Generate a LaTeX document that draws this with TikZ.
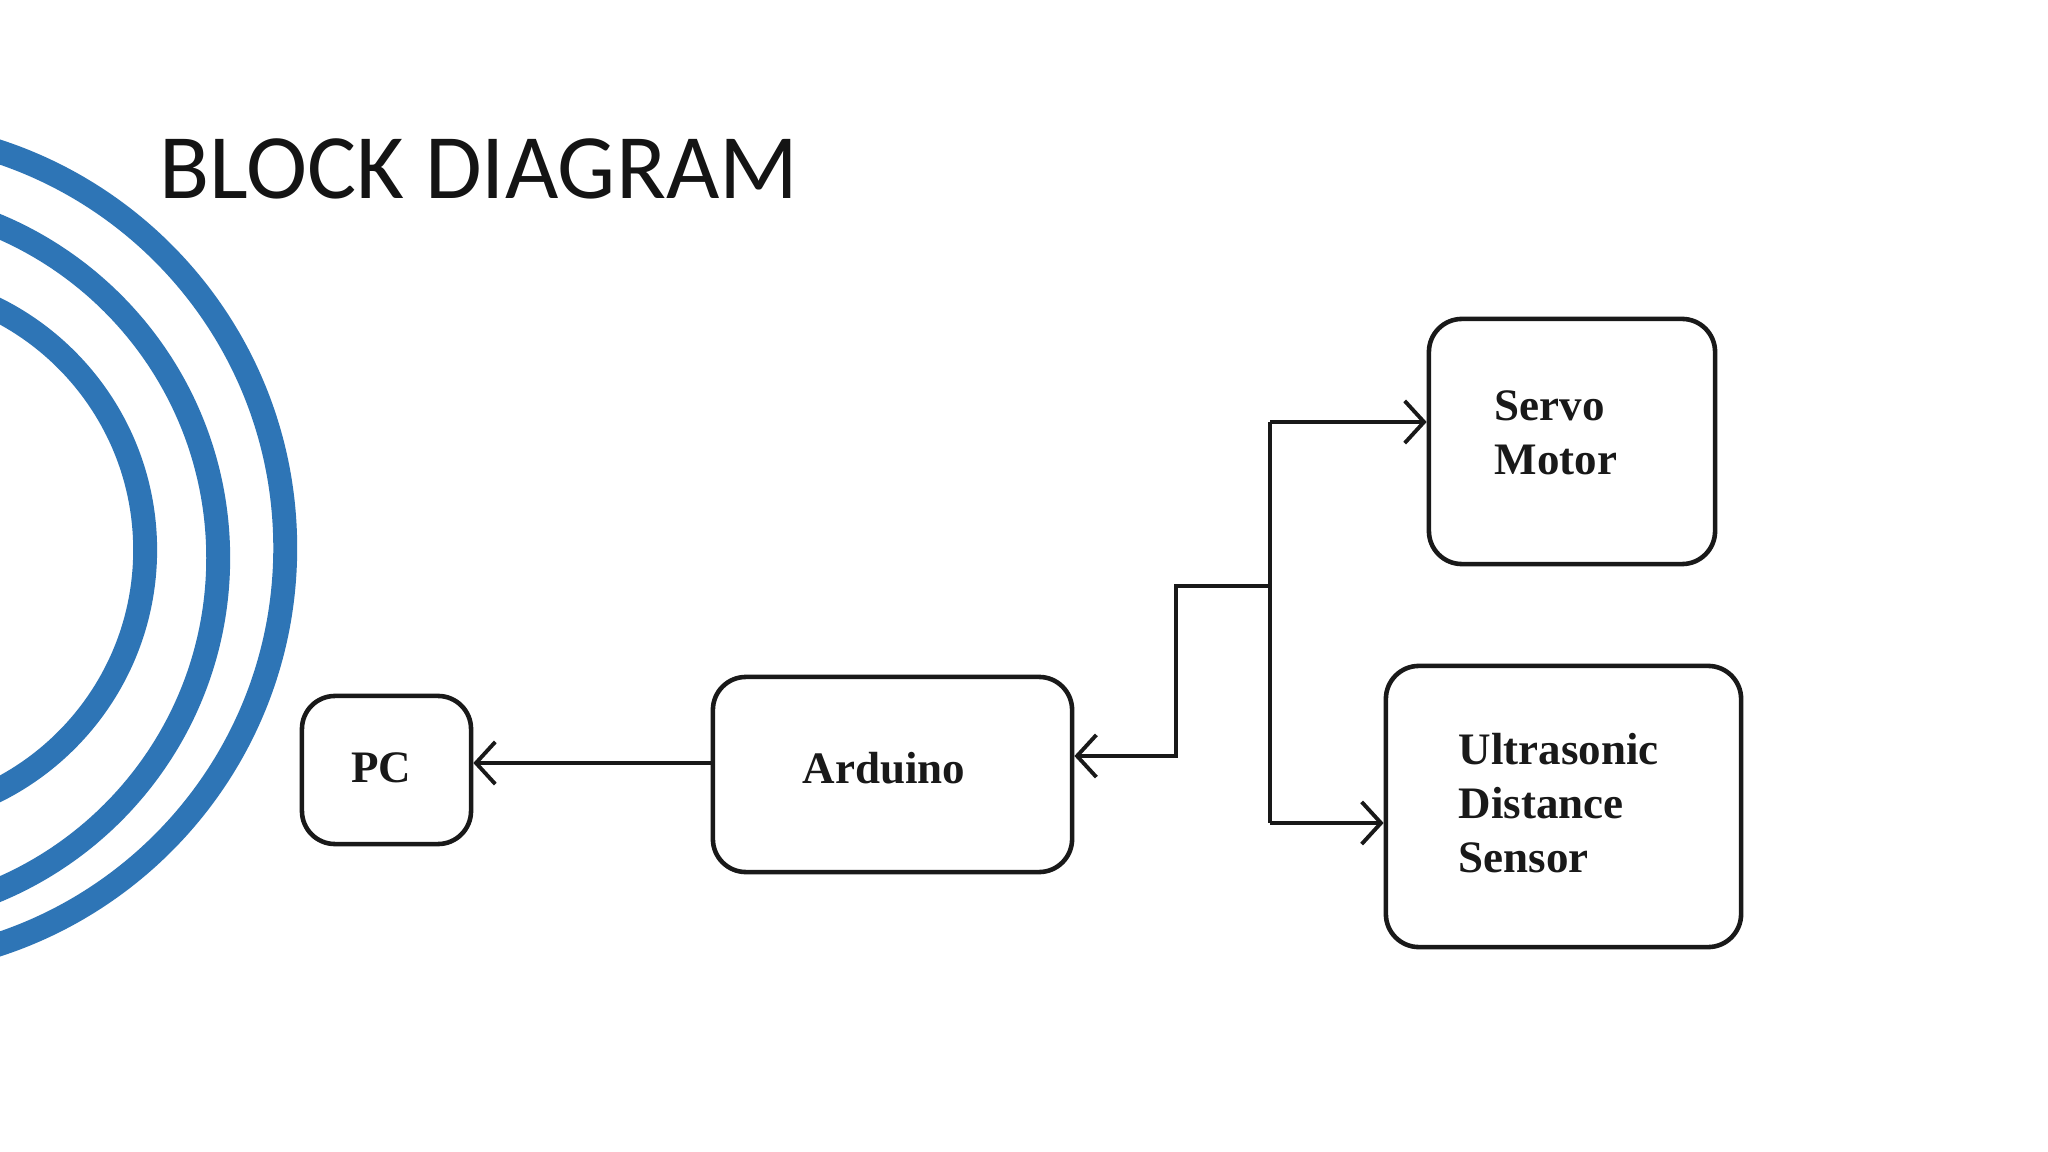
\documentclass[tikz,border=0pt]{standalone}
\usepackage{fontspec}
\setmainfont{Liberation Serif}
\newfontfamily\titlefont{Carlito}
\usetikzlibrary{arrows.meta}
\definecolor{arcblue}{RGB}{46,117,182}
\definecolor{ink}{RGB}{25,25,25}
\tikzset{
  blk/.style={draw=ink, line width=1.3pt, rounded corners=0.33cm, fill=white, inner sep=0pt},
  conn/.style={draw=ink, line width=1.1pt},
  tip/.style={-{Straight Barb[length=5.5pt,width=12pt,line width=1.1pt]}},
  lbl/.style={font=\bfseries\fontsize{12.8pt}{15.4pt}\selectfont, text=ink, align=left, inner sep=0pt},
  arcline/.style={draw=arcblue, line width=6.8pt}
}
\begin{document}
\begin{tikzpicture}[x=0.01cm, y=-0.01cm]
\path[fill=white, use as bounding box] (0,0) rectangle (2048,1152);
\begin{scope}
  \clip (0,0) rectangle (2048,1152);
  \draw[arcline] (-132,548) circle [radius=4.17cm];
  \draw[arcline] (-142,558) circle [radius=3.60cm];
  \draw[arcline] (-124,550) circle [radius=2.69cm];
\end{scope}
\node[anchor=base west, inner sep=0pt, text=black!92, font=\titlefont\fontsize{26.2pt}{30pt}\selectfont] (title) at (159,199) {BLOCK DIAGRAM};

\node[blk, minimum width=1.69cm, minimum height=1.48cm] (pc) at (386.5,770) {};
\node[blk, minimum width=3.59cm, minimum height=1.95cm] (ard) at (892.5,774.5) {};
\node[blk, minimum width=2.86cm, minimum height=2.45cm] (servo) at (1572,441.5) {};
\node[blk, minimum width=3.55cm, minimum height=2.81cm] (ultra) at (1563.5,806.5) {};

\node[lbl] (pct) at (381,768) {PC};
\node[lbl] (ardt) at (884,768) {Arduino};
\node[lbl, anchor=west] (servot) at (1494,433) {Servo\\Motor};
\node[lbl, anchor=west] (ultrat) at (1458,803) {Ultrasonic\\Distance\\Sensor};

\coordinate (pcin) at (471,763);
\coordinate (j1) at (1176,756);
\coordinate (j2) at (1176,586);
\coordinate (tmid) at (1270,586);
\coordinate (ttop) at (1270,422);
\coordinate (tbot) at (1270,823);

\draw[conn, tip] (ard.west |- pcin) -- (pc.east |- pcin);
\draw[conn, tip] (tmid) -- (j2) -- (j1) -- (ard.east |- j1);
\draw[conn] (ttop) -- (tbot);
\draw[conn, tip] (ttop) -- (servo.west |- ttop);
\draw[conn, tip] (tbot) -- (ultra.west |- tbot);
\end{tikzpicture}
\end{document}
